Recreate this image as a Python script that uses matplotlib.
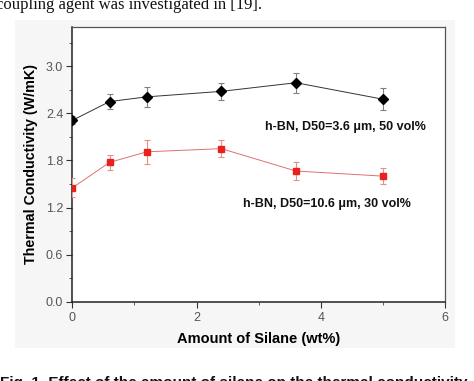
import matplotlib
matplotlib.use("Agg")
import matplotlib.pyplot as plt
from matplotlib.patches import Rectangle

# Data
silane = [0, 0.6, 1.2, 2.4, 3.6, 5.0]
tc_36 = [2.31, 2.55, 2.61, 2.68, 2.79, 2.58]
err_36 = [0.05, 0.09, 0.13, 0.11, 0.13, 0.14]
tc_106 = [1.45, 1.775, 1.91, 1.95, 1.665, 1.60]
err_106 = [0.12, 0.10, 0.15, 0.11, 0.12, 0.10]
label_36 = "h-BN, D50=3.6 \u03bcm, 50 vol%"
label_106 = "h-BN, D50=10.6 \u03bcm, 30 vol%"
yticks = [0.0, 0.6, 1.2, 1.8, 2.4, 3.0]
xticks = [0, 2, 4, 6]

plt.rcParams['font.family'] = ['Liberation Sans', 'DejaVu Sans']

fig = plt.figure(figsize=(4.74, 3.81), dpi=100)
bg = Rectangle((15/474, 1-348/381), 440/474, (348-20)/381,
               transform=fig.transFigure, facecolor='#f6f6f6',
               edgecolor='none', zorder=-10)
fig.add_artist(bg)

ax = fig.add_axes([72.3/474, 1-301.7/381, (445-72.3)/474, (301.7-27)/381])
ax.set_zorder(1)
ax.set_facecolor('white')

ax.errorbar(silane, tc_36, yerr=err_36, color='#333333', lw=0.7,
            marker='D', ms=4.8, mfc='black', mec='black',
            ecolor='#808080', elinewidth=0.8, capsize=2.5, capthick=0.8, zorder=3)
ax.errorbar(silane, tc_106, yerr=err_106, color='#e07070', lw=0.7,
            marker='s', ms=4.5, mfc='#e8211c', mec='#e8211c',
            ecolor='#e49090', elinewidth=0.8, capsize=2.5, capthick=0.8, zorder=3)

ax.text(3.1, 2.22, label_36, fontsize=9, fontweight='bold', va='center', ha='left', color='#111111')
ax.text(2.75, 1.25, label_106, fontsize=9, fontweight='bold', va='center', ha='left', color='#111111')

ax.set_xlim(0, 6)
ax.set_ylim(0, 3.5)
ax.set_xticks(xticks)
ax.set_xticklabels([str(t) for t in xticks])
ax.set_yticks(yticks)
ax.set_yticklabels([f"{t:.1f}" for t in yticks])
ax.set_xticks([1, 3, 5], minor=True)
ax.set_yticks([0.3, 0.9, 1.5, 2.1, 2.7, 3.3], minor=True)
ax.tick_params(which='major', direction='out', length=4, width=0.8, colors='#333333',
               labelcolor='#555555', labelsize=9)
ax.tick_params(which='minor', direction='out', length=2.5, width=0.6, colors='#444444')
ax.tick_params(axis='y', pad=2.5)
for s in ax.spines.values():
    s.set_color('#555555')
    s.set_linewidth(0.9)
ax.spines['left'].set_color('#222222')
ax.spines['bottom'].set_color('#222222')
ax.spines['left'].set_linewidth(1.1)
ax.spines['bottom'].set_linewidth(1.1)

ax.set_xlabel("Amount of Silane (wt%)", fontsize=10.5, fontweight='bold', labelpad=6)
ax.set_ylabel("Thermal Conductivity (W/mK)", fontsize=10.3, fontweight='bold', labelpad=6)

fig.text(-0.008, 1-9/381, "coupling agent was investigated in [19].", fontsize=12,
         family=['Liberation Serif', 'DejaVu Serif'], va='baseline', ha='left', color='#111111')
fig.text(0.0, 1-376/381, "Fig. 1. Effect of the amount of silane on the thermal conductivity",
         fontsize=11, family=['Liberation Sans', 'DejaVu Sans'], fontweight='bold',
         va='top', ha='left', color='#111111')

fig.savefig("out.png", dpi=100)
